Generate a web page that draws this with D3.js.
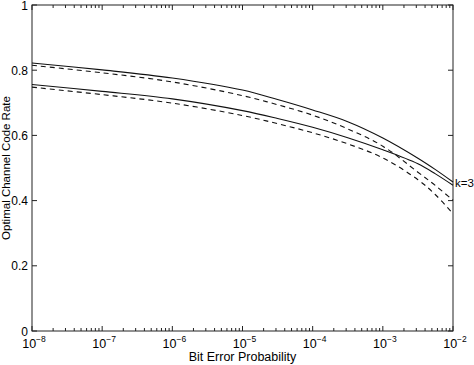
<!DOCTYPE html>
<html>
<head>
<meta charset="utf-8">
<script src="https://cdn.jsdelivr.net/npm/d3@7"></script>
<style>
  body { margin: 0; background: #fff; }
  svg { display: block; font-family: "Liberation Sans", Arial, sans-serif; }
</style>
</head>
<body>
<svg id="chart" width="474" height="365"></svg>
<script>
const logP = [-8, -7, -6, -5, -4.5, -4, -3.5, -3, -2.5, -2.25, -2];
// two solid curves and two dashed curves
const solidUpper  = [0.822, 0.801, 0.776, 0.739, 0.710, 0.678, 0.642, 0.592, 0.530, 0.495, 0.457];
const dashedUpper = [0.815, 0.792, 0.764, 0.722, 0.694, 0.662, 0.620, 0.567, 0.487, 0.446, 0.401];
const solidLower  = [0.756, 0.735, 0.712, 0.676, 0.652, 0.625, 0.593, 0.556, 0.513, 0.482, 0.447];
const dashedLower = [0.748, 0.725, 0.699, 0.661, 0.636, 0.608, 0.574, 0.531, 0.464, 0.418, 0.360];
const yTicks = [0, 0.2, 0.4, 0.6, 0.8, 1];
const xExponents = [-8, -7, -6, -5, -4, -3, -2];
const curveLabel = "k=3";

const svg = d3.select("#chart");
const margin = {left: 32, right: 21, top: 5, bottom: 34};
const W = 474, H = 365;

//set scales
const xScale = d3.scaleLog().domain([1e-8, 1e-2]).range([margin.left, W - margin.right]);
const yScale = d3.scaleLinear().domain([0, 1]).range([H - margin.bottom, margin.top]);

//axes box
svg.append("rect")
    .attr("x", xScale.range()[0]).attr("y", yScale.range()[1])
    .attr("width", xScale.range()[1] - xScale.range()[0])
    .attr("height", yScale.range()[0] - yScale.range()[1])
    .attr("fill", "none").attr("stroke", "#222").attr("stroke-width", 1);

//minor/major log ticks, inward on top and bottom
let xTickVals = [];
for (let e = -8; e < -2; e++) {
    for (let m = 1; m < 10; m++) xTickVals.push(m * Math.pow(10, e));
}
xTickVals.push(1e-2);
const ticks = svg.append("g").attr("stroke", "#222").attr("stroke-width", 1);
xTickVals.forEach(v => {
    let major = Math.abs(Math.log10(v) - Math.round(Math.log10(v))) < 1e-9;
    let len = major ? 5 : 3;
    let x = xScale(v);
    ticks.append("line").attr("x1", x).attr("x2", x)
        .attr("y1", yScale(0)).attr("y2", yScale(0) - len);
    ticks.append("line").attr("x1", x).attr("x2", x)
        .attr("y1", yScale(1)).attr("y2", yScale(1) + len);
});
yTicks.forEach(v => {
    let y = yScale(v);
    ticks.append("line").attr("x1", xScale(1e-8)).attr("x2", xScale(1e-8) + 5).attr("y1", y).attr("y2", y);
    ticks.append("line").attr("x1", xScale(1e-2)).attr("x2", xScale(1e-2) - 5).attr("y1", y).attr("y2", y);
});

//y tick labels
svg.append("g").selectAll("text").data(yTicks).join("text")
    .attr("x", xScale(1e-8) - 4)
    .attr("y", d => yScale(d) + 4.5)
    .attr("text-anchor", "end")
    .attr("font-size", 12)
    .text(d => d);

//x tick labels with superscript exponents
let xl = svg.append("g").selectAll("text").data(xExponents).join("text")
    .attr("x", d => xScale(Math.pow(10, d)) + 2)
    .attr("y", yScale(0) + 17)
    .attr("text-anchor", "middle")
    .attr("font-size", 12.5);
xl.append("tspan").text("10");
xl.append("tspan").attr("dy", -6).attr("font-size", 8.5).text(d => "\u2212" + Math.abs(d));

//axis titles
svg.append("text")
    .attr("x", (xScale.range()[0] + xScale.range()[1]) / 2)
    .attr("y", 361)
    .attr("text-anchor", "middle")
    .attr("font-size", 12.5)
    .text("Bit Error Probability");
svg.append("text")
    .attr("transform", "translate(10," + ((yScale.range()[0] + yScale.range()[1]) / 2) + ") rotate(-90)")
    .attr("text-anchor", "middle")
    .attr("font-size", 11.5)
    .text("Optimal Channel Code Rate");

//plot data
const series = [
    {vals: solidUpper, dash: null},
    {vals: dashedUpper, dash: "5,4"},
    {vals: solidLower, dash: null},
    {vals: dashedLower, dash: "5,4"}
];
const line = d3.line()
    .x(d => xScale(Math.pow(10, d[0])))
    .y(d => yScale(d[1]))
    .curve(d3.curveCatmullRom);
svg.append("g").selectAll("path").data(series).join("path")
    .attr("fill", "none")
    .attr("stroke", "#111")
    .attr("stroke-width", 1.1)
    .attr("stroke-dasharray", d => d.dash)
    .attr("d", d => line(logP.map((p, i) => [p, d.vals[i]])));

//curve label
svg.append("text")
    .attr("x", xScale(1e-2) + 2)
    .attr("y", yScale(solidLower[solidLower.length - 1]) + 2)
    .attr("font-size", 11.5)
    .text(curveLabel);
</script>
</body>
</html>
